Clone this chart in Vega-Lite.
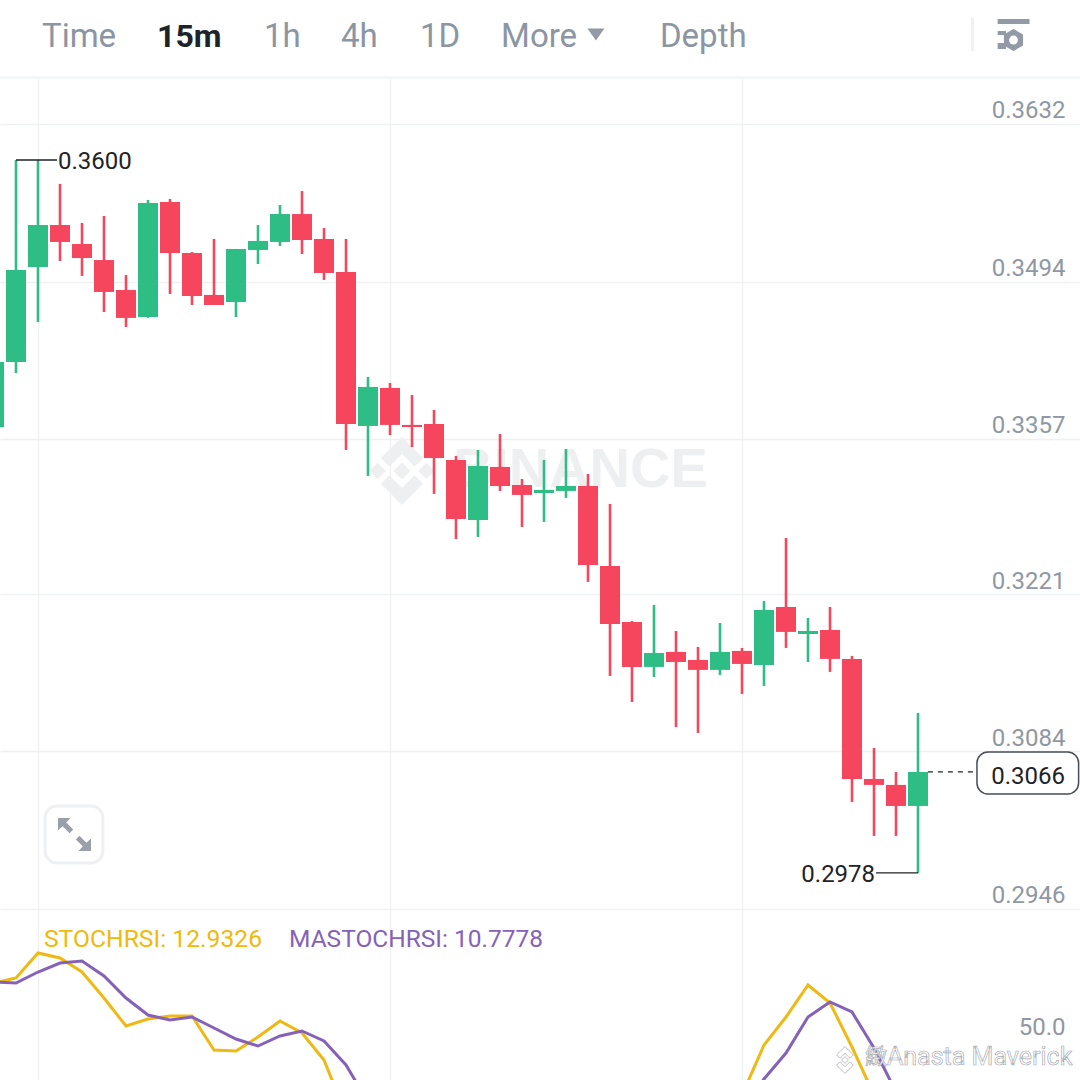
{"$schema":"https://vega.github.io/schema/vega-lite/v6.json","width":1080,"height":1080,"padding":0,"autosize":{"type":"none"},"background":"white","config":{"view":{"stroke":null},"text":{"font":"Roboto"},"scale":{"continuousPadding":0}},"datasets":{"candles":[{"t":-1,"open":0.3367,"high":0.34345,"low":0.33558,"close":0.3424},{"t":0,"open":0.3424,"high":0.36005,"low":0.34144,"close":0.35044},{"t":1,"open":0.3507,"high":0.36005,"low":0.3459,"close":0.35437},{"t":2,"open":0.35437,"high":0.35796,"low":0.35123,"close":0.35289},{"t":3,"open":0.35271,"high":0.35455,"low":0.34992,"close":0.35149},{"t":4,"open":0.35131,"high":0.35516,"low":0.34677,"close":0.34852},{"t":5,"open":0.34869,"high":0.35,"low":0.34546,"close":0.34625},{"t":6,"open":0.34633,"high":0.35656,"low":0.34625,"close":0.3563},{"t":7,"open":0.35638,"high":0.35665,"low":0.34834,"close":0.35193},{"t":8,"open":0.35193,"high":0.35201,"low":0.34738,"close":0.34817},{"t":9,"open":0.34826,"high":0.35315,"low":0.34738,"close":0.34738},{"t":10,"open":0.34764,"high":0.35228,"low":0.34633,"close":0.35228},{"t":11,"open":0.35219,"high":0.35437,"low":0.35096,"close":0.35298},{"t":12,"open":0.35289,"high":0.35612,"low":0.35254,"close":0.35533},{"t":13,"open":0.35533,"high":0.35734,"low":0.35184,"close":0.35306},{"t":14,"open":0.35315,"high":0.35411,"low":0.34957,"close":0.35018},{"t":15,"open":0.35027,"high":0.35315,"low":0.33471,"close":0.33698},{"t":16,"open":0.33681,"high":0.34109,"low":0.33244,"close":0.34022},{"t":17,"open":0.34013,"high":0.34057,"low":0.33602,"close":0.3369},{"t":18,"open":0.3369,"high":0.33952,"low":0.33497,"close":0.33672},{"t":19,"open":0.33698,"high":0.33821,"low":0.33087,"close":0.33401},{"t":20,"open":0.33384,"high":0.33419,"low":0.32693,"close":0.32868},{"t":21,"open":0.32859,"high":0.33471,"low":0.32711,"close":0.33331},{"t":22,"open":0.33323,"high":0.33611,"low":0.33113,"close":0.33156},{"t":23,"open":0.33165,"high":0.33218,"low":0.32798,"close":0.33078},{"t":24,"open":0.33095,"high":0.33384,"low":0.32842,"close":0.33122},{"t":25,"open":0.33113,"high":0.3348,"low":0.33052,"close":0.33156},{"t":26,"open":0.33156,"high":0.33261,"low":0.32318,"close":0.32466},{"t":27,"open":0.32457,"high":0.32999,"low":0.31496,"close":0.31951},{"t":28,"open":0.31968,"high":0.31977,"low":0.31269,"close":0.31575},{"t":29,"open":0.31575,"high":0.32117,"low":0.31487,"close":0.31697},{"t":30,"open":0.31706,"high":0.31889,"low":0.3105,"close":0.31618},{"t":31,"open":0.31636,"high":0.3175,"low":0.30998,"close":0.31549},{"t":32,"open":0.31549,"high":0.31959,"low":0.31505,"close":0.31706},{"t":33,"open":0.31715,"high":0.31741,"low":0.31339,"close":0.31601},{"t":34,"open":0.31592,"high":0.32152,"low":0.31409,"close":0.32073},{"t":35,"open":0.32099,"high":0.32702,"low":0.31741,"close":0.31881},{"t":36,"open":0.31863,"high":0.32003,"low":0.31618,"close":0.31889},{"t":37,"open":0.31898,"high":0.32099,"low":0.31531,"close":0.31645},{"t":38,"open":0.31645,"high":0.31671,"low":0.30395,"close":0.30596},{"t":39,"open":0.30596,"high":0.30867,"low":0.30098,"close":0.30544},{"t":40,"open":0.30544,"high":0.30657,"low":0.30098,"close":0.3036},{"t":41,"open":0.3036,"high":0.31173,"low":0.29775,"close":0.30657}],"rsi":[{"t":-1,"stoch":76.1,"ma":76.55},{"t":0,"stoch":78.35,"ma":76.1},{"t":1,"stoch":89.6,"ma":81.05},{"t":2,"stoch":87.35,"ma":85.1},{"t":3,"stoch":81.05,"ma":86},{"t":4,"stoch":69.35,"ma":79.25},{"t":5,"stoch":56.75,"ma":69.35},{"t":6,"stoch":59.9,"ma":61.7},{"t":7,"stoch":61.25,"ma":59.45},{"t":8,"stoch":61.25,"ma":60.8},{"t":9,"stoch":45.95,"ma":55.85},{"t":10,"stoch":45.5,"ma":50.9},{"t":11,"stoch":51.8,"ma":47.75},{"t":12,"stoch":59,"ma":52.25},{"t":13,"stoch":53.6,"ma":54.5},{"t":14,"stoch":41.45,"ma":50},{"t":15,"stoch":16.7,"ma":39.2},{"t":16,"stoch":null,"ma":22.5},{"t":25,"stoch":null,"ma":null},{"t":33,"stoch":25.7,"ma":19},{"t":34,"stoch":48.2,"ma":32.9},{"t":35,"stoch":60.8,"ma":44.6},{"t":36,"stoch":75.2,"ma":60.8},{"t":37,"stoch":67.1,"ma":67.55},{"t":38,"stoch":47.3,"ma":63.05},{"t":39,"stoch":25.7,"ma":46.85},{"t":40,"stoch":null,"ma":27.05}]},"resolve":{"scale":{"y":"independent"}},"layer":[{"layer":[{"data":{"name":"candles"},"mark":{"type":"rule","strokeWidth":0,"clip":true},"encoding":{"x":{"field":"t","type":"quantitative","scale":{"domain":[-0.7273,48.3636]},"axis":{"values":[1,17,33],"grid":true,"gridColor":"#eff0f2","gridWidth":1.3,"labels":false,"ticks":false,"domain":false,"title":null}},"y":{"field":"low","type":"quantitative","scale":{"domain":[0.27965,0.374036]},"axis":{"orient":"right","values":[0.3632,0.3494,0.3357,0.3221,0.3084,0.2946],"format":".4f","grid":true,"gridColor":"#eff0f2","gridWidth":1.3,"domain":false,"ticks":false,"title":null,"labelFont":"Roboto","labelFontSize":24,"labelColor":"#8f97a3","labelAlign":"right","labelBaseline":"middle","labelPadding":-15,"labelOffset":-13,"labelBound":false}},"y2":{"field":"high"}}},{"data":{"values":[{"kind":"logo"}]},"mark":{"type":"point","filled":true,"opacity":1,"color":"#eeeff1","size":4624,"shape":"M0,-1L.62,-.38L.37,-.13L0,-.5L-.37,-.13L-.62,-.38ZM0,1L.62,.38L.37,.13L0,.5L-.37,.13L-.62,.38ZM0,-.25L.25,0L0,.25L-.25,0ZM-.72,-.24L-.48,0L-.72,.24L-.96,0ZM.72,-.24L.96,0L.72,.24L.48,0Z"},"encoding":{"x":{"datum":17.545,"scale":{"domain":[-0.7273,48.3636]}},"y":{"datum":0.33288,"scale":{"domain":[0.27965,0.374036]},"axis":{"orient":"right"}}}},{"data":{"values":[{"kind":"watermark"}]},"mark":{"type":"text","font":"Liberation Sans","fontWeight":"bold","fontSize":56,"color":"#eeeff1","align":"left","baseline":"middle"},"encoding":{"x":{"datum":19.85,"scale":{"domain":[-0.7273,48.3636]}},"y":{"datum":0.33296,"scale":{"domain":[0.27965,0.374036]},"axis":{"orient":"right"}},"text":{"value":"BINANCE"}}},{"data":{"name":"candles"},"mark":{"type":"rule","strokeWidth":2.6,"clip":true},"encoding":{"x":{"field":"t","type":"quantitative","scale":{"domain":[-0.7273,48.3636]}},"y":{"field":"low","type":"quantitative","scale":{"domain":[0.27965,0.374036]},"axis":{"orient":"right"}},"y2":{"field":"high"},"color":{"condition":{"test":"datum.close>datum.open","value":"#2ebd85"},"value":"#f6465d"}}},{"data":{"name":"candles"},"mark":{"type":"bar","size":20,"clip":true},"encoding":{"x":{"field":"t","type":"quantitative","scale":{"domain":[-0.7273,48.3636],"padding":0}},"y":{"field":"open","type":"quantitative","scale":{"domain":[0.27965,0.374036]},"axis":{"orient":"right"}},"y2":{"field":"close"},"color":{"condition":{"test":"datum.close>datum.open","value":"#2ebd85"},"value":"#f6465d"}}},{"data":{"values":[{"kind":"high"}]},"mark":{"type":"rule","color":"#1e2329","strokeWidth":1.4},"encoding":{"x":{"datum":0,"scale":{"domain":[-0.7273,48.3636]}},"x2":{"datum":1.86},"y":{"datum":0.36005,"scale":{"domain":[0.27965,0.374036]},"axis":{"orient":"right"}}}},{"data":{"values":[{"kind":"high"}]},"mark":{"type":"text","fontSize":24,"color":"#1e2329","align":"left","baseline":"middle"},"encoding":{"x":{"datum":1.91,"scale":{"domain":[-0.7273,48.3636]}},"y":{"datum":0.35988,"scale":{"domain":[0.27965,0.374036]},"axis":{"orient":"right"}},"text":{"value":"0.3600"}}},{"data":{"values":[{"kind":"low"}]},"mark":{"type":"rule","color":"#1e2329","strokeWidth":1.4},"encoding":{"x":{"datum":39.09,"scale":{"domain":[-0.7273,48.3636]}},"x2":{"datum":41},"y":{"datum":0.29775,"scale":{"domain":[0.27965,0.374036]},"axis":{"orient":"right"}}}},{"data":{"values":[{"kind":"low"}]},"mark":{"type":"text","fontSize":24,"color":"#1e2329","align":"right","baseline":"middle"},"encoding":{"x":{"datum":39.05,"scale":{"domain":[-0.7273,48.3636]}},"y":{"datum":0.29757,"scale":{"domain":[0.27965,0.374036]},"axis":{"orient":"right"}},"text":{"value":"0.2978"}}},{"data":{"values":[{"kind":"last"}]},"mark":{"type":"rule","color":"#1e2329","strokeWidth":1.2,"strokeDash":[5,5]},"encoding":{"x":{"datum":41.45,"scale":{"domain":[-0.7273,48.3636]}},"x2":{"datum":43.7},"y":{"datum":0.30657,"scale":{"domain":[0.27965,0.374036]},"axis":{"orient":"right"}}}},{"data":{"values":[{"kind":"last"}]},"mark":{"type":"rect","fill":"white","stroke":"#474d57","strokeWidth":1.5,"cornerRadius":11},"encoding":{"x":{"datum":43.68,"scale":{"domain":[-0.7273,48.3636]}},"x2":{"datum":48.3},"y":{"datum":0.30832,"scale":{"domain":[0.27965,0.374036]},"axis":{"orient":"right"}},"y2":{"datum":0.30465}}},{"data":{"values":[{"kind":"last"}]},"mark":{"type":"text","fontSize":24,"color":"#1e2329","align":"right","baseline":"middle"},"encoding":{"x":{"datum":47.68,"scale":{"domain":[-0.7273,48.3636]}},"y":{"datum":0.30613,"scale":{"domain":[0.27965,0.374036]},"axis":{"orient":"right"}},"text":{"value":"0.3066"}}},{"data":{"values":[{"kind":"expand"}]},"mark":{"type":"rect","fill":"white","stroke":"#eef0f2","strokeWidth":3,"cornerRadius":12},"encoding":{"x":{"datum":1.32,"scale":{"domain":[-0.7273,48.3636]}},"x2":{"datum":3.95},"y":{"datum":0.3036,"scale":{"domain":[0.27965,0.374036]},"axis":{"orient":"right"}},"y2":{"datum":0.29862}}},{"data":{"values":[{"kind":"expand"}]},"mark":{"type":"point","filled":true,"opacity":1,"color":"#9aa0aa","size":1089,"shape":"M-1,-1L-.25,-1L-.5,-.72L-.08,-.3L-.3,-.08L-.72,-.5L-1,-.25ZM1,1L.25,1L.5,.72L.08,.3L.3,.08L.72,.5L1,.25Z"},"encoding":{"x":{"datum":2.66,"scale":{"domain":[-0.7273,48.3636]}},"y":{"datum":0.30111,"scale":{"domain":[0.27965,0.374036]},"axis":{"orient":"right"}}}},{"data":{"values":[{"kind":"legend"}]},"mark":{"type":"text","fontSize":24.7,"color":"#f0b90b","align":"left","baseline":"middle"},"encoding":{"x":{"datum":1.27,"scale":{"domain":[-0.7273,48.3636]}},"y":{"datum":0.29189,"scale":{"domain":[0.27965,0.374036]},"axis":{"orient":"right"}},"text":{"value":"STOCHRSI: 12.9326"}}},{"data":{"values":[{"kind":"legend"}]},"mark":{"type":"text","fontSize":24.5,"color":"#8562b8","align":"left","baseline":"middle"},"encoding":{"x":{"datum":12.41,"scale":{"domain":[-0.7273,48.3636]}},"y":{"datum":0.29189,"scale":{"domain":[0.27965,0.374036]},"axis":{"orient":"right"}},"text":{"value":"MASTOCHRSI: 10.7778"}}},{"data":{"values":[{"kind":"toolbar"}]},"mark":{"type":"rect","fill":"white"},"encoding":{"x":{"datum":-0.7273,"scale":{"domain":[-0.7273,48.3636]}},"x2":{"datum":48.3636},"y":{"datum":0.374036,"scale":{"domain":[0.27965,0.374036]},"axis":{"orient":"right"}},"y2":{"datum":0.36739}}},{"data":{"values":[{"kind":"toolbar"}]},"mark":{"type":"rect","fill":"#f5f6f8"},"encoding":{"x":{"datum":-0.7273,"scale":{"domain":[-0.7273,48.3636]}},"x2":{"datum":48.3636},"y":{"datum":0.36739,"scale":{"domain":[0.27965,0.374036]},"axis":{"orient":"right"}},"y2":{"datum":0.36713}}},{"data":{"values":[{"kind":"toolbar"}]},"mark":{"type":"text","fontSize":33,"color":"#8b95a3","align":"left","baseline":"middle"},"encoding":{"x":{"datum":1.18,"scale":{"domain":[-0.7273,48.3636]}},"y":{"datum":0.3708,"scale":{"domain":[0.27965,0.374036]},"axis":{"orient":"right"}},"text":{"value":"Time"}}},{"data":{"values":[{"kind":"toolbar"}]},"mark":{"type":"text","fontSize":32,"fontWeight":"bold","color":"#1e2329","align":"left","baseline":"middle"},"encoding":{"x":{"datum":6.41,"scale":{"domain":[-0.7273,48.3636]}},"y":{"datum":0.3708,"scale":{"domain":[0.27965,0.374036]},"axis":{"orient":"right"}},"text":{"value":"15m"}}},{"data":{"values":[{"kind":"toolbar"}]},"mark":{"type":"text","fontSize":33,"color":"#8b95a3","align":"left","baseline":"middle"},"encoding":{"x":{"datum":11.27,"scale":{"domain":[-0.7273,48.3636]}},"y":{"datum":0.3708,"scale":{"domain":[0.27965,0.374036]},"axis":{"orient":"right"}},"text":{"value":"1h"}}},{"data":{"values":[{"kind":"toolbar"}]},"mark":{"type":"text","fontSize":33,"color":"#8b95a3","align":"left","baseline":"middle"},"encoding":{"x":{"datum":14.77,"scale":{"domain":[-0.7273,48.3636]}},"y":{"datum":0.3708,"scale":{"domain":[0.27965,0.374036]},"axis":{"orient":"right"}},"text":{"value":"4h"}}},{"data":{"values":[{"kind":"toolbar"}]},"mark":{"type":"text","fontSize":33,"color":"#8b95a3","align":"left","baseline":"middle"},"encoding":{"x":{"datum":18.36,"scale":{"domain":[-0.7273,48.3636]}},"y":{"datum":0.3708,"scale":{"domain":[0.27965,0.374036]},"axis":{"orient":"right"}},"text":{"value":"1D"}}},{"data":{"values":[{"kind":"toolbar"}]},"mark":{"type":"text","fontSize":33,"color":"#8b95a3","align":"left","baseline":"middle"},"encoding":{"x":{"datum":22.05,"scale":{"domain":[-0.7273,48.3636]}},"y":{"datum":0.3708,"scale":{"domain":[0.27965,0.374036]},"axis":{"orient":"right"}},"text":{"value":"More"}}},{"data":{"values":[{"kind":"toolbar"}]},"mark":{"type":"point","filled":true,"opacity":1,"color":"#939aa6","size":289,"shape":"M-1,-.7L1,-.7L0,.7Z"},"encoding":{"x":{"datum":26.36,"scale":{"domain":[-0.7273,48.3636]}},"y":{"datum":0.37102,"scale":{"domain":[0.27965,0.374036]},"axis":{"orient":"right"}}}},{"data":{"values":[{"kind":"toolbar"}]},"mark":{"type":"text","fontSize":33,"color":"#8b95a3","align":"left","baseline":"middle"},"encoding":{"x":{"datum":29.27,"scale":{"domain":[-0.7273,48.3636]}},"y":{"datum":0.3708,"scale":{"domain":[0.27965,0.374036]},"axis":{"orient":"right"}},"text":{"value":"Depth"}}},{"data":{"values":[{"kind":"toolbar"}]},"mark":{"type":"rect","fill":"#f0f1f2"},"encoding":{"x":{"datum":43.41,"scale":{"domain":[-0.7273,48.3636]}},"x2":{"datum":43.55},"y":{"datum":0.372463,"scale":{"domain":[0.27965,0.374036]},"axis":{"orient":"right"}},"y2":{"datum":0.369579}}},{"data":{"values":[{"kind":"toolbar"}]},"mark":{"type":"rect","fill":"#939aa6"},"encoding":{"x":{"datum":44.62,"scale":{"domain":[-0.7273,48.3636]}},"x2":{"datum":46.07},"y":{"datum":0.372376,"scale":{"domain":[0.27965,0.374036]},"axis":{"orient":"right"}},"y2":{"datum":0.371939}}},{"data":{"values":[{"kind":"toolbar"}]},"mark":{"type":"rect","fill":"#939aa6"},"encoding":{"x":{"datum":44.62,"scale":{"domain":[-0.7273,48.3636]}},"x2":{"datum":45},"y":{"datum":0.371327,"scale":{"domain":[0.27965,0.374036]},"axis":{"orient":"right"}},"y2":{"datum":0.370977}}},{"data":{"values":[{"kind":"toolbar"}]},"mark":{"type":"rect","fill":"#939aa6"},"encoding":{"x":{"datum":44.62,"scale":{"domain":[-0.7273,48.3636]}},"x2":{"datum":45},"y":{"datum":0.370278,"scale":{"domain":[0.27965,0.374036]},"axis":{"orient":"right"}},"y2":{"datum":0.369754}}},{"data":{"values":[{"kind":"toolbar"}]},"mark":{"type":"point","filled":true,"opacity":1,"color":"#939aa6","size":484,"shape":"M0,-1L.87,-.5L.87,.5L0,1L-.87,.5L-.87,-.5Z"},"encoding":{"x":{"datum":45.34,"scale":{"domain":[-0.7273,48.3636]}},"y":{"datum":0.37054,"scale":{"domain":[0.27965,0.374036]},"axis":{"orient":"right"}}}},{"data":{"values":[{"kind":"toolbar"}]},"mark":{"type":"point","filled":true,"opacity":1,"color":"white","size":78,"shape":"circle"},"encoding":{"x":{"datum":45.34,"scale":{"domain":[-0.7273,48.3636]}},"y":{"datum":0.37054,"scale":{"domain":[0.27965,0.374036]},"axis":{"orient":"right"}}}}]},{"layer":[{"data":{"name":"rsi"},"mark":{"type":"line","color":"#efb914","strokeWidth":3,"clip":true},"encoding":{"x":{"field":"t","type":"quantitative","scale":{"domain":[-0.7273,48.3636]}},"y":{"field":"stoch","type":"quantitative","scale":{"domain":[32.45,518.45]},"axis":{"orient":"right","values":[50],"format":".1f","grid":false,"domain":false,"ticks":false,"title":null,"labelFont":"Roboto","labelFontSize":24,"labelColor":"#8f97a3","labelAlign":"right","labelBaseline":"middle","labelPadding":-15,"labelOffset":-14,"labelBound":false}}}},{"data":{"name":"rsi"},"mark":{"type":"line","color":"#8562b8","strokeWidth":3,"clip":true},"encoding":{"x":{"field":"t","type":"quantitative","scale":{"domain":[-0.7273,48.3636]}},"y":{"field":"ma","type":"quantitative","scale":{"domain":[32.45,518.45]},"axis":{"orient":"right"}}}},{"data":{"values":[{"kind":"watermark"}]},"mark":{"type":"point","filled":false,"opacity":1,"color":"#b9bdc4","strokeWidth":1,"size":729,"shape":"M0,-1L.62,-.38L.37,-.13L0,-.5L-.37,-.13L-.62,-.38ZM0,1L.62,.38L.37,.13L0,.5L-.37,.13L-.62,.38ZM0,-.25L.25,0L0,.25L-.25,0Z"},"encoding":{"x":{"datum":37.68,"scale":{"domain":[-0.7273,48.3636]}},"y":{"datum":41.45,"scale":{"domain":[32.45,518.45]},"axis":{"orient":"right"}}}},{"data":{"values":[{"kind":"watermark"}]},"mark":{"type":"text","font":"Noto Sans CJK SC","fontSize":22,"fill":"white","stroke":"#a9adb5","strokeWidth":0.7,"align":"left","baseline":"middle"},"encoding":{"x":{"datum":38.6,"scale":{"domain":[-0.7273,48.3636]}},"y":{"datum":42.8,"scale":{"domain":[32.45,518.45]},"axis":{"orient":"right"}},"text":{"value":"緻"}}},{"data":{"values":[{"kind":"watermark"}]},"mark":{"type":"text","fontSize":25,"fill":"white","stroke":"#a9adb5","strokeWidth":0.7,"align":"left","baseline":"middle"},"encoding":{"x":{"datum":39.59,"scale":{"domain":[-0.7273,48.3636]}},"y":{"datum":42.8,"scale":{"domain":[32.45,518.45]},"axis":{"orient":"right"}},"text":{"value":"Anasta Maverick"}}}]}]}
